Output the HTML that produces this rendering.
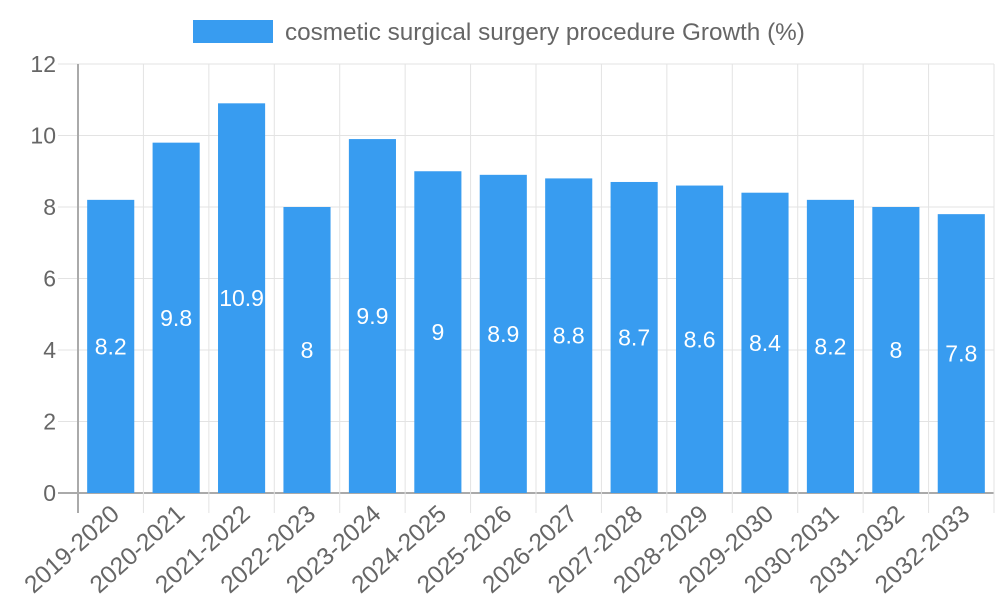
<!DOCTYPE html>
<html><head><meta charset="utf-8"><style>
body{margin:0;background:#fff;}
svg{display:block;font-family:"Liberation Sans",sans-serif;}
</style></head><body>
<svg id="chart" width="1000" height="600" viewBox="0 0 1000 600">
<g>
<rect x="193" y="20" width="80" height="23" fill="#389cf0"/>
<text x="285" y="40" font-size="24.3" fill="#666">cosmetic surgical surgery procedure Growth (%)</text>
</g>
<g id="grid"></g><g id="bars"></g><g id="labels"></g>
</svg>
<script>
const categories=["2019-2020","2020-2021","2021-2022","2022-2023","2023-2024","2024-2025","2025-2026","2026-2027","2027-2028","2028-2029","2029-2030","2030-2031","2031-2032","2032-2033"];
const values=[8.2,9.8,10.9,8,9.9,9,8.9,8.8,8.7,8.6,8.4,8.2,8,7.8];
const yTicks=[0,2,4,6,8,10,12];
const NS="http://www.w3.org/2000/svg";
const L=78,R=994,T=64,B=493,yMax=12;
const band=(R-L)/categories.length;
const y=v=>B-(v/yMax)*(B-T);
const x=i=>L+i*band;
function mk(tag,attrs,parent){const e=document.createElementNS(NS,tag);for(const k in attrs)e.setAttribute(k,attrs[k]);parent.appendChild(e);return e;}
const grid=document.getElementById('grid'),bars=document.getElementById('bars'),labels=document.getElementById('labels');
yTicks.forEach(t=>{
  const ln=mk('line',{x1:58,x2:R,y1:y(t),y2:y(t),stroke:t===0?'#aaa':'#e3e3e3','stroke-width':t===0?2:1},grid);
  
  
  const tx=mk('text',{x:56,y:y(t)+8,'text-anchor':'end','font-size':23,fill:'#666'},labels);
  tx.textContent=t;
  
  
});
for(let i=0;i<=categories.length;i++){
  const ln=mk('line',{x1:x(i),x2:x(i),y1:T,y2:513,stroke:i===0?'#aaa':'#e3e3e3','stroke-width':i===0?2:1},grid);
  
  
}
values.forEach((v,i)=>{
  const bw=band*0.72,bx=x(i)+(band-bw)/2;
  const r=mk('rect',{x:bx,y:y(v),width:bw,height:B-y(v),fill:'#389cf0'},bars);
  
  
  const t=mk('text',{x:x(i)+band/2,y:y(v/2)+8,'text-anchor':'middle','font-size':23,fill:'#fff'},labels);
  t.textContent=v;
  
  
  const cx=x(i)+band/2+10,cy=516;
  const xl=mk('text',{x:cx,y:cy,'text-anchor':'end','font-size':24.5,fill:'#666',transform:`rotate(-42 ${cx} ${cy})`},labels);
  xl.textContent=categories[i];
  
  
});
</script>
</body></html>
